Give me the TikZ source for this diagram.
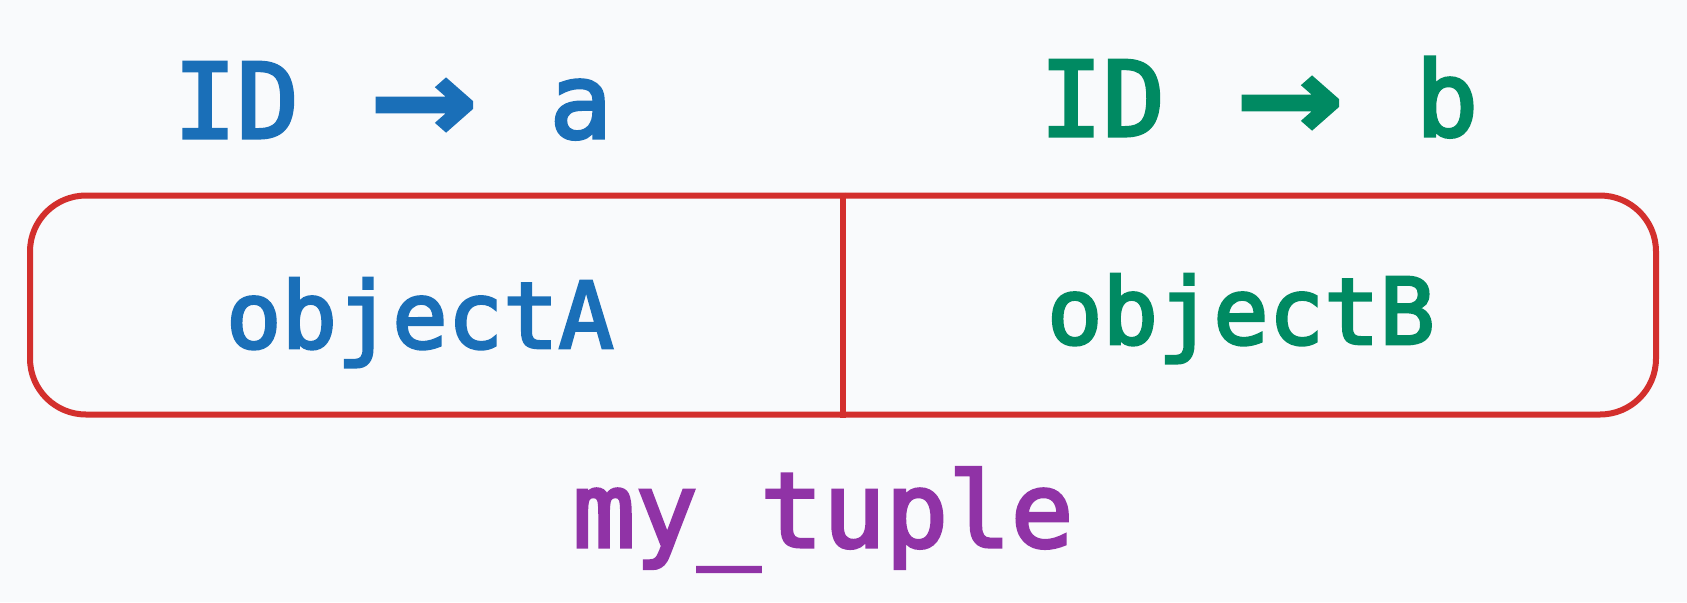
\documentclass[tikz,border=0pt]{standalone}
\usepackage{fontspec}
\usepackage{graphicx}
\newfontfamily\codefont{DejaVu Sans Mono}[FakeBold=3]
\definecolor{bgc}{HTML}{F9FAFC}
\definecolor{tblue}{HTML}{1A6FB8}
\definecolor{tgreen}{HTML}{008A62}
\definecolor{tpurple}{HTML}{9033A6}
\definecolor{tred}{HTML}{D32F2D}
\newcommand{\ligarrow}{\makebox[1.204em]{\raisebox{-0.08em}{\scalebox{1.65}[1.45]{→}}}}
\tikzset{
  headtext/.style={anchor=base, inner sep=0pt, font=\fontsize{52}{56}\selectfont\codefont},
  celltext/.style={anchor=base, inner sep=0pt, font=\fontsize{46}{50}\selectfont\codefont},
  tuplebox/.style={draw=tred, line width=3pt, rounded corners=28pt, minimum width=813pt, minimum height=109.5pt, inner sep=0pt},
  divider/.style={draw=tred, line width=3pt}
}
\begin{document}
\begin{tikzpicture}[x=0.5pt, y=-0.5pt]
\useasboundingbox[fill=bgc] (0,0) rectangle (1687,602);
\node[tuplebox] (box) at (843,305) {};
\draw[divider] (box.north) -- (box.south);
\node[headtext, text=tblue] (ha) at (393,138) {ID \ligarrow{} a};
\node[headtext, text=tgreen] (hb) at (1259,136) {ID \ligarrow{} b};
\node[celltext, text=tblue] (oa) at (420,348) {objectA};
\node[celltext, text=tgreen] (ob) at (1241,344) {objectB};
\node[headtext, text=tpurple] (tup) at (823,547) {my\_tuple};
\end{tikzpicture}
\end{document}
